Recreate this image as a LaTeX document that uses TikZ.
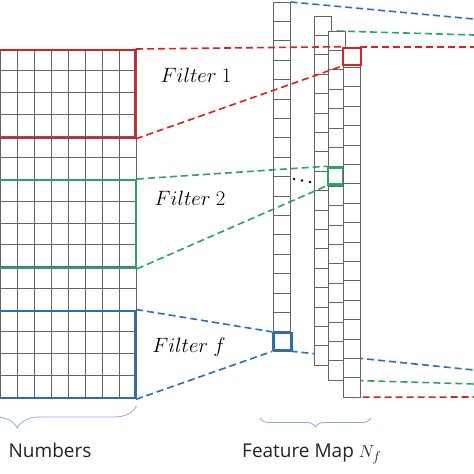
\documentclass[tikz,border=0pt]{standalone}
\usepackage{fontspec}
\setmainfont{Open Sans}
\usetikzlibrary{decorations.pathreplacing}
\definecolor{filterred}{RGB}{222, 32, 32}
\definecolor{filtergreen}{RGB}{40, 165, 95}
\definecolor{filterblue}{RGB}{40, 112, 180}
\definecolor{cellgray}{RGB}{100, 100, 100}
\definecolor{bracegray}{RGB}{143, 170, 220}
\definecolor{textgray}{RGB}{35, 35, 35}

\begin{document}
\begin{tikzpicture}[
    x=1pt, y=-1pt,
    mapcell/.style={draw=cellgray, line width=1pt, fill=white},
    filterbox/.style={draw=#1, line width=2.3pt, minimum width=190pt, minimum height=87.5pt, inner sep=0pt, anchor=north east},
    hlbox/.style 2 args={draw=#1, line width=2.5pt, minimum width=#2, minimum height=17pt, inner sep=0pt},
    link/.style={draw=#1, dash pattern=on 7pt off 4pt, line width=1.6pt},
    curly/.style={draw=bracegray, line width=0.8pt, decorate, decoration={brace, amplitude=#1}},
    filtername/.style={inner sep=0pt, font=\fontsize{20}{22}\selectfont},
    caption/.style={inner sep=0pt, anchor=base, text=textgray, font=\fontsize{19}{22}\selectfont}
]
    \clip (0,0) rectangle (474,474);

    % Coordinates
    \coordinate (c1ne) at (290.5, 2);
    \coordinate (c1se) at (290.5, 351.2);
    \coordinate (c3n)  at (337, 31);
    \coordinate (c3se) at (345.5, 380.2);
    \coordinate (c4ne) at (360, 47);
    \coordinate (c4s)  at (351.5, 397.2);

    \coordinate (edge_blue_top) at (474, 19);
    \coordinate (edge_blue_bot) at (474, 370);
    \coordinate (edge_green_top) at (474, 35);
    \coordinate (edge_green_bot) at (474, 384);
    \coordinate (edge_red_top) at (474, 47);
    \coordinate (edge_red_bot) at (474, 397);

    % Input grid
    \foreach \c in {-3,...,7}
        \foreach \r in {0,...,15}
            \draw[mapcell] ({\c*17}, {49+\r*21.75}) rectangle ++(17, 21.75);

    % Filters on the grid
    \node[filterbox=filterred]   (filter1) at (136, 49) {};
    \node[filterbox=filtergreen] (filter2) at (137, 179) {};
    \node[filterbox=filterblue]  (filter3) at (136, 309.5) {};

    \node[filtername] (name1) at (196, 75)  {$Filter~1$};
    \node[filtername] (name2) at (190, 198) {$Filter~2$};
    \node[filtername] (name3) at (189, 347) {$Filter~f$};

    % Lines going on to the right (behind the maps)
    \draw[link=filterblue]  (c1ne) -- (edge_blue_top);
    \draw[link=filterblue]  (c1se) -- (edge_blue_bot);
    \draw[link=filtergreen] (c3n)  -- (edge_green_top);
    \draw[link=filtergreen] (c3se) -- (edge_green_bot);
    \draw[link=filterred]   (c4ne) -- (edge_red_top);
    \draw[link=filterred]   (c4s)  -- (edge_red_bot);

    % Feature maps
    \foreach \x/\y in {273.5/2, 314/16, 328.5/31}
        \foreach \r in {0,...,17}
            \draw[mapcell] (\x, {\y+\r*19.4}) rectangle ++(17, 19.4);

    \node[hlbox={filtergreen}{15pt}] (greencell) at (335.5, 176) {};

    \foreach \r in {0,...,17}
        \draw[mapcell] (343, {48+\r*19.4}) rectangle ++(17, 19.4);

    \node[hlbox={filterred}{18pt}]  (redcell)  at (351.8, 56.5) {};
    \node[hlbox={filterblue}{18pt}] (bluecell) at (282.5, 341.6) {};

    % dots between the maps
    \fill (294, 179) circle (1.4) (302, 180.5) circle (1.4) (310, 182) circle (1.4);

    % Filter -> feature map
    \draw[link=filterred]   (filter1.north east) -- (redcell.north west);
    \draw[link=filterred]   (filter1.south east) -- (redcell.south west);
    \draw[link=filtergreen] (filter2.north east) -- (greencell.north west);
    \draw[link=filtergreen] (filter2.south east) -- (greencell.south west);
    \draw[link=filterblue]  (filter3.north east) -- (bluecell.north west);
    \draw[link=filterblue]  (filter3.south east) -- (bluecell.south west);

    % Braces and captions
    \coordinate (num_l) at (-102, 406);
    \coordinate (num_r) at (136.5, 406);
    \coordinate (fm_l)  at (260, 418);
    \coordinate (fm_r)  at (371, 418);
    \draw[curly=22pt] (num_r) -- (num_l);
    \draw[curly=9pt]  (fm_r) -- (fm_l);

    \node[caption] (numbers) at (50, 457) {Numbers};
    \node[caption, anchor=base west] (fmap) at (242, 457) {Feature Map $N_f$};

\end{tikzpicture}
\end{document}
